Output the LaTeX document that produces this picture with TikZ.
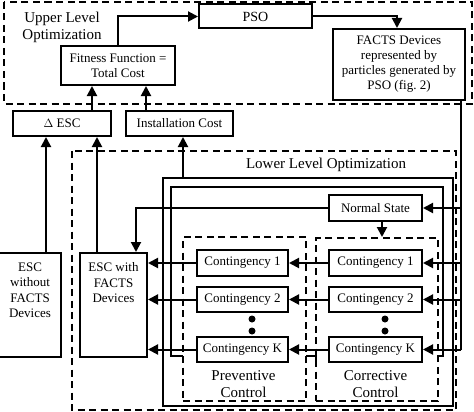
\documentclass[tikz,border=0pt]{standalone}
\usepackage{fontspec}
\setmainfont{Liberation Serif}
\usetikzlibrary{arrows.meta}
\tikzset{
  x=1pt, y=-1pt,
  box/.style={draw, line width=2pt, inner sep=0pt, align=center,
    font=\fontsize{13}{15}\selectfont},
  txt/.style={inner sep=0pt, align=center, font=\fontsize{13}{15.5}\selectfont},
  bigtxt/.style={inner sep=0pt, align=center, font=\fontsize{15}{17}\selectfont},
  dashbox/.style={draw, line width=2pt, dash pattern=on 7pt off 4.5pt},
  wire/.style={line width=2pt},
  arr/.style={line width=2pt, -{Triangle[length=10pt,width=10pt]}},
  dot/.style={circle, fill, inner sep=0pt, minimum size=7pt}
}
\begin{document}
\begin{tikzpicture}
\useasboundingbox (0,0) rectangle (474,412);
% dashed regions
\draw[dashbox] (4,2) rectangle (472,104);
\draw[dashbox] (72,151) rectangle (456,410);
\node[bigtxt] (ulo) at (62,27) {Upper Level\\Optimization};
\node[bigtxt] (llo) at (326,165) {Lower Level Optimization};
% upper boxes
\node[box, minimum width=113pt, minimum height=24pt, font=\fontsize{14}{16}\selectfont] (PSO) at (255.5,16.5) {PSO};
\node[box, minimum width=132pt, minimum height=71pt] (FACTS) at (399,64.5) {FACTS Devices\\represented by\\particles generated by\\PSO (fig.~2)};
\node[box, minimum width=114pt, minimum height=39pt] (Fit) at (118,65.5) {Fitness Function =\\Total Cost};
\node[box, minimum width=98pt, minimum height=25pt] (dESC) at (62,123.5) {$\Delta$ ESC};
\node[box, minimum width=107pt, minimum height=25pt] (Inst) at (179.5,123.5) {Installation Cost};
% ESC boxes
\node[box, minimum width=62pt, minimum height=104pt] (ESCwo) at (30,305) {};
\node[txt] (ESCwot) at (30,290.5) {ESC\\without\\FACTS\\Devices};
\node[box, minimum width=67pt, minimum height=104pt] (ESCw) at (113.5,305) {};
\node[txt] (ESCwt) at (113.5,283) {ESC with\\FACTS\\Devices};
% outer and inner solid frames
\draw[wire] (163,178) rectangle (453,406);
\draw[wire] (183,356) -- (171,356) -- (171,187) -- (443,187) -- (443,356) -- (438,356);
\draw[wire] (306,356) -- (315.5,356) -- (315.5,362);
% control regions
\node[dashbox, minimum width=123pt, minimum height=164pt] (Prev) at (244.5,319) {};
\node[dashbox, minimum width=122pt, minimum height=163pt] (Corr) at (377,319.5) {};
\node[bigtxt] (Prevt) at (243.5,384.5) {Preventive\\Control};
\node[bigtxt] (Corrt) at (375.5,384.5) {Corrective\\Control};
% normal state and contingencies
\node[box, minimum width=93pt, minimum height=26pt, fill=white] (Normal) at (375.5,208) {Normal State};
\node[box, minimum width=91pt, minimum height=26pt, fill=white] (P1) at (242.5,263) {Contingency 1};
\node[box, minimum width=91pt, minimum height=25pt, fill=white] (P2) at (242.5,299.5) {Contingency 2};
\node[box, minimum width=91pt, minimum height=25pt, fill=white] (PK) at (242.5,349.5) {Contingency K};
\node[box, minimum width=93pt, minimum height=26pt, fill=white] (C1) at (375.5,263) {Contingency 1};
\node[box, minimum width=93pt, minimum height=25pt, fill=white] (C2) at (375.5,299.5) {Contingency 2};
\node[box, minimum width=93pt, minimum height=25pt, fill=white] (CK) at (375.5,349.5) {Contingency K};
\node[dot] (d1) at (252,319) {};
\node[dot] (d2) at (252,331) {};
\node[dot] (d3) at (385,319) {};
\node[dot] (d4) at (385,331) {};
% connectors upper level
\draw[arr] (Fit.north) |- (PSO.west);
\draw[arr] (PSO.east) -| (FACTS.north -| 397,0);
\draw[arr] (dESC.north -| 92,0) -- (Fit.south -| 92,0);
\draw[arr] (Inst.north -| 146,0) -- (Fit.south -| 146,0);
\draw[arr] (ESCwo.north -| 46,0) -- (dESC.south -| 46,0);
\draw[arr] (ESCw.north -| 97,0) -- (dESC.south -| 97,0);
\coordinate (o1) at (183,178);
\draw[arr] (o1) -- (Inst.south -| o1);
% FACTS feed line
\coordinate (fb) at (461,349.5);
\draw[wire] (FACTS.south -| fb) -- (fb);
\draw[arr] (Normal.east -| fb) -- (Normal.east);
\draw[arr] (C1.east -| fb) -- (C1.east);
\draw[arr] (C2.east -| fb) -- (C2.east);
\draw[arr] (fb) -- (CK.east);
% normal state outputs
\draw[arr] (Normal.west) -| ([xshift=22.5pt]ESCw.north);
\draw[arr] (Normal.south -| 382,0) -- (Corr.north -| 382,0);
% corrective to preventive
\draw[arr] (C1.west) -- (P1.east);
\draw[arr] (C2.west) -- (P2.east);
\draw[arr] (CK.west) -- (PK.east);
% preventive to ESC with
\draw[arr] (P1.west) -- (P1.west -| ESCw.east);
\draw[arr] (P2.west) -- (P2.west -| ESCw.east);
\draw[arr] (PK.west) -- (PK.west -| ESCw.east);
\end{tikzpicture}
\end{document}
